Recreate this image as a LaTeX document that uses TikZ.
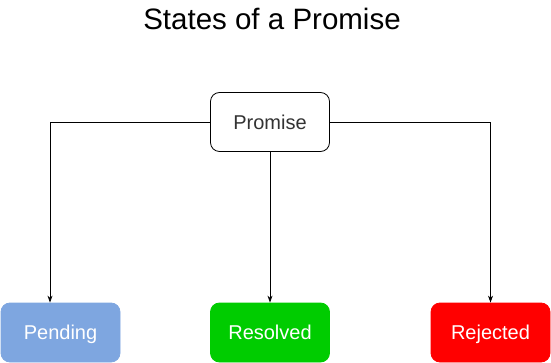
\documentclass[tikz,border=0pt]{standalone}
\usepackage{fontspec}
\setmainfont{Liberation Sans}
\usetikzlibrary{arrows.meta}
\definecolor{pend}{HTML}{7EA6E0}
\definecolor{resv}{HTML}{00CC00}
\definecolor{rejc}{HTML}{FF0000}
\definecolor{txt}{HTML}{333333}
\begin{document}
\begin{tikzpicture}[x=1pt,y=-1pt,
  box/.style={rounded corners=9pt,minimum width=119pt,minimum height=59pt,inner sep=0pt,line width=0.8pt,
    font=\fontsize{20}{23}\selectfont,text height=14.3pt,text depth=0pt},
  state/.style={box,text=white},
  conn/.style={line width=0.8pt,-{Stealth[length=7pt,width=5pt]}}]
\useasboundingbox (0,0) rectangle (551,363);
\node[text=black,font=\fontsize{29.5}{34}\selectfont,text height=21.1pt,text depth=0pt,inner sep=0pt] (title) at (272,19) {States of a Promise};
\node[box,draw=black,fill=white,text=txt] (promise) at (270,122) {Promise};
\node[state,draw=pend,fill=pend] (pending) at (60.5,332.5) {Pending};
\node[state,draw=resv,fill=resv] (resolved) at (270,332.5) {Resolved};
\node[state,draw=rejc,fill=rejc] (rejected) at (490.5,332.5) {Rejected};
\draw[conn] (promise.west) -| ([xshift=-10.5pt]pending.north);
\draw[conn] (promise.south) -- (resolved.north);
\draw[conn] (promise.east) -| (rejected.north);
\end{tikzpicture}
\end{document}
